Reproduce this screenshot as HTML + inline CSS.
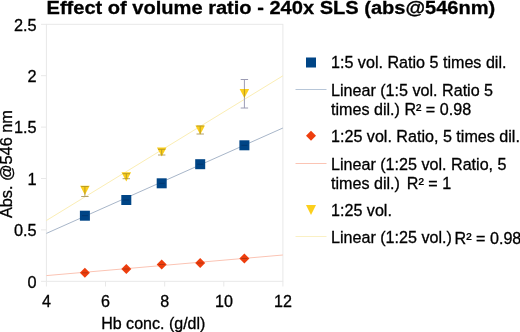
<!DOCTYPE html>
<html><head><meta charset="utf-8"><title>Effect of volume ratio</title>
<style>
html,body{margin:0;padding:0;background:#fff;}
svg{display:block}
text{font-family:"Liberation Sans",Arial,sans-serif;fill:#000;stroke:#000;stroke-width:0.3px}
</style></head><body>
<svg width="520" height="332" viewBox="0 0 520 332">
<rect width="520" height="332" fill="#fff"/>
<!-- plot border -->
<g stroke="#e8e8e8" stroke-width="1" fill="none">
<rect x="46.4" y="24.3" width="236.5" height="257"/>
<path d="M41 24.3H46.4M41 75.7H46.4M41 127.1H46.4M41 178.5H46.4M41 229.9H46.4M41 281.3H46.4"/>
<path d="M46.4 281.3V286.5M105.5 281.3V286.5M164.7 281.3V286.5M223.8 281.3V286.5M282.9 281.3V286.5"/>
</g>
<!-- trend lines -->
<g fill="none" stroke-width="1">
<line x1="46.4" y1="220.5" x2="282.9" y2="75.8" stroke="#fbeeb4"/>
<line x1="46.4" y1="233.4" x2="282.9" y2="128" stroke="#a8b6c9"/>
<line x1="46.4" y1="275.6" x2="282.9" y2="255" stroke="#fbc4b4"/>
</g>
<!-- error bars -->
<g stroke="#9c9cb4" stroke-width="1" fill="none">
<path stroke="#b4a26a" d="M84.9 186.5V196.5M81.2 186.5H88.6M81.2 196.5H88.6"/>
<path stroke="#b4a26a" d="M126.3 173.7V178.7M122.6 173.7H130.0M122.6 178.7H130.0"/>
<path stroke="#b4a26a" d="M161.7 149.3V155M158.0 149.3H165.4M158.0 155H165.4"/>
<path stroke="#b4a26a" d="M200.2 126V134M196.5 126H203.9M196.5 134H203.9"/>
<path d="M244.4 79.5V108M240.7 79.5H248.1M240.7 108H248.1"/>
</g>
<!-- yellow triangles -->
<g fill="#fccf1c">
<path d="M80.1 185.8h9.6l-4.8 9.2z"/>
<path d="M121.5 172.2h9.6l-4.8 9.2z"/>
<path d="M156.9 147.4h9.6l-4.8 9.2z"/>
<path d="M195.4 125.4h9.6l-4.8 9.2z"/>
<path d="M239.6 88.9h9.6l-4.8 9.2z"/>
</g>
<clipPath id="tri">
<path d="M80.1 185.8h9.6l-4.8 9.2z"/>
<path d="M121.5 172.2h9.6l-4.8 9.2z"/>
<path d="M156.9 147.4h9.6l-4.8 9.2z"/>
<path d="M195.4 125.4h9.6l-4.8 9.2z"/>
<path d="M239.6 88.9h9.6l-4.8 9.2z"/>
</clipPath>
<!-- error bars overlay -->
<g stroke="#6a6030" stroke-width="1" fill="none" opacity="0.45" clip-path="url(#tri)">
<path d="M84.9 186.5V196.5M81.2 186.5H88.6M81.2 196.5H88.6"/>
<path d="M126.3 173.7V178.7M122.6 173.7H130.0M122.6 178.7H130.0"/>
<path d="M161.7 149.3V155M158.0 149.3H165.4M158.0 155H165.4"/>
<path d="M200.2 126V134M196.5 126H203.9M196.5 134H203.9"/>
<path d="M244.4 79.5V108M240.7 79.5H248.1M240.7 108H248.1"/>
</g>
<!-- blue squares -->
<g fill="#004586">
<rect x="79.9" y="210.7" width="10" height="10"/>
<rect x="121.3" y="195.0" width="10" height="10"/>
<rect x="156.7" y="178.3" width="10" height="10"/>
<rect x="195.2" y="159.2" width="10" height="10"/>
<rect x="239.4" y="140.3" width="10" height="10"/>
</g>
<!-- red diamonds -->
<g fill="#ee3e0e">
<path d="M84.9 267.8l5 5l-5 5l-5 -5z"/>
<path d="M126.3 264.0l5 5l-5 5l-5 -5z"/>
<path d="M161.7 259.5l5 5l-5 5l-5 -5z"/>
<path d="M200.2 258.0l5 5l-5 5l-5 -5z"/>
<path d="M244.4 253.5l5 5l-5 5l-5 -5z"/>
</g>
<!-- diamond error bars -->
<g stroke="#7a2a10" stroke-width="1" fill="none" opacity="0.45">
<path d="M81.9 272.8H87.9"/>
<path d="M123.3 269H129.3"/>
<path d="M158.7 264.5H164.7"/>
<path d="M197.2 263H203.2"/>
<path d="M241.4 258.5H247.4"/>
</g>
<!-- square error bars -->
<g stroke="#00285a" stroke-width="1" fill="none" opacity="0.5">
<path d="M81.9 215.7H87.9"/>
<path d="M123.3 200H129.3"/>
<path d="M158.7 183.3H164.7"/>
<path d="M197.2 164.2H203.2"/>
<path d="M241.4 145.3H247.4"/>
</g>
<!-- title -->
<text x="46.5" y="14" font-size="18.9" font-weight="bold" textLength="448.8" lengthAdjust="spacingAndGlyphs">Effect of volume ratio - 240x SLS (abs@546nm)</text>
<!-- y tick labels -->
<g font-size="16.3" text-anchor="end" transform="translate(-1.4,0.6)">
<text x="38" y="30">2.5</text>
<text x="38" y="81.4">2</text>
<text x="38" y="132.8">1.5</text>
<text x="38" y="184.2">1</text>
<text x="38" y="235.6">0.5</text>
<text x="38" y="287">0</text>
</g>
<!-- x tick labels -->
<g font-size="16.1" text-anchor="middle" transform="translate(0,0.3)">
<text x="46.5" y="307">4</text>
<text x="105.6" y="307">6</text>
<text x="164.8" y="307">8</text>
<text x="223.9" y="307">10</text>
<text x="283" y="307">12</text>
</g>
<text x="153.3" y="328.5" font-size="16.05" text-anchor="middle">Hb conc. (g/dl)</text>
<text transform="translate(12.2,164.1) rotate(-90)" font-size="16" text-anchor="middle" textLength="108" lengthAdjust="spacingAndGlyphs">Abs. @546 nm</text>
<!-- legend -->
<rect x="306" y="57.5" width="10" height="10" fill="#004586"/>
<line x1="295.5" y1="89.5" x2="326.5" y2="89.5" stroke="#b7c6d8"/>
<path d="M311 130.7l5 5l-5 5l-5-5z" fill="#ee3e0e"/>
<line x1="295.5" y1="163.5" x2="326.5" y2="163.5" stroke="#fbc4b4"/>
<path d="M306 205h10l-5 10z" fill="#fccf1c"/>
<line x1="295.5" y1="236.5" x2="326.5" y2="236.5" stroke="#faf0c4"/>
<g font-size="16.13" transform="translate(0,0.3)">
<text x="331" y="67.5">1:5 vol. Ratio 5 times dil.</text>
<text x="331" y="95.5">Linear (1:5 vol. Ratio 5</text>
<text x="331" y="115">times dil.) R² = 0.98</text>
<text x="331" y="142">1:25 vol. Ratio, 5 times dil.</text>
<text x="331" y="170">Linear (1:25 vol. Ratio, 5</text>
<text x="331" y="189.1">times dil.)</text>
<text x="406.8" y="189.1">R² = 1</text>
<text x="331" y="216.2">1:25 vol.</text>
<text x="331" y="242.5">Linear (1:25 vol.)</text>
<text x="454.6" y="243.3">R² = 0.98</text>
</g>
</svg>
</body></html>
